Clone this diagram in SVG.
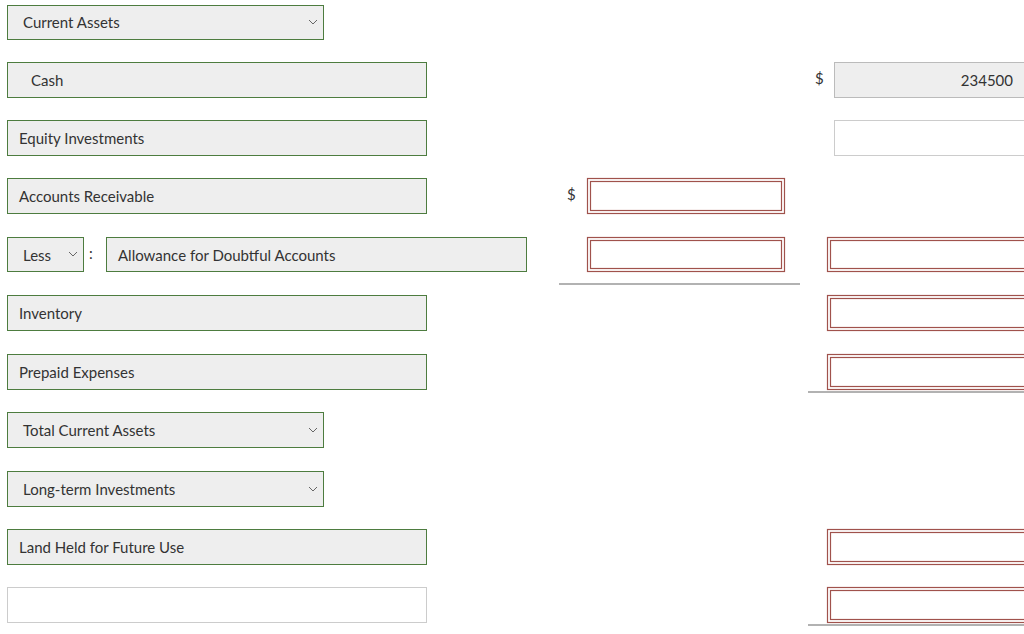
<svg xmlns="http://www.w3.org/2000/svg" width="1024" height="634" viewBox="0 0 1024 634">
<style>
.f{fill:#eeeeee;stroke:#4d7c3f;stroke-width:1}
.w{fill:#ffffff;stroke:#cccccc;stroke-width:1}
.g{fill:#eeeeee;stroke:#bbbbbb;stroke-width:1}
.r{fill:#ffffff;stroke:#a0524c;stroke-width:1.2}
.t{font-family:Lato,"Liberation Sans",sans-serif;font-size:15px;fill:#333333}
.c{fill:none;stroke:#666;stroke-width:1}
.ln{stroke:#999;stroke-width:1.5}
</style>
<rect width="1024" height="634" fill="#fff"/>
<g id="current-assets"><rect class="f" x="7.5" y="5.5" width="316" height="34"/><text class="t" x="23" y="28">Current Assets</text><path class="c" d="M309 20l4 4 4-4"/></g>
<g id="cash"><rect class="f" x="7.5" y="62.5" width="419" height="35"/><text class="t" x="31" y="86">Cash</text></g>
<g id="equity"><rect class="f" x="7.5" y="120.5" width="419" height="35"/><text class="t" x="19" y="144">Equity Investments</text></g>
<g id="ar"><rect class="f" x="7.5" y="178.5" width="419" height="35"/><text class="t" x="19" y="202">Accounts Receivable</text></g>
<g id="less"><rect class="f" x="7.5" y="237.5" width="76" height="34"/><text class="t" x="23" y="261">Less</text><path class="c" d="M69 252l4 4 4-4"/><text class="t" x="89" y="259">:</text></g>
<g id="allowance"><rect class="f" x="106.5" y="237.5" width="420" height="34"/><text class="t" x="118" y="261">Allowance for Doubtful Accounts</text></g>
<g id="inventory"><rect class="f" x="7.5" y="295.5" width="419" height="35"/><text class="t" x="19" y="319">Inventory</text></g>
<g id="prepaid"><rect class="f" x="7.5" y="354.5" width="419" height="35"/><text class="t" x="19" y="378">Prepaid Expenses</text></g>
<g id="tca"><rect class="f" x="7.5" y="412.5" width="316" height="35"/><text class="t" x="23" y="436">Total Current Assets</text><path class="c" d="M309 428l4 4 4-4"/></g>
<g id="lti"><rect class="f" x="7.5" y="471.5" width="316" height="35"/><text class="t" x="23" y="495">Long-term Investments</text><path class="c" d="M309 487l4 4 4-4"/></g>
<g id="land"><rect class="f" x="7.5" y="529.5" width="419" height="35"/><text class="t" x="19" y="553">Land Held for Future Use</text></g>
<g id="blank"><rect class="w" x="7.5" y="587.5" width="419" height="35"/></g>
<g id="cash-amt"><text class="t" x="815" y="84" font-size="17">$</text><rect class="g" x="834.5" y="62.5" width="190" height="35"/><text class="t" x="1013" y="86" text-anchor="end">234500</text></g>
<g id="equity-amt"><rect class="w" x="834.5" y="120.5" width="190" height="35"/></g>
<g id="ar-amt"><text class="t" x="567" y="200" font-size="17">$</text><rect class="r" x="587.5" y="178.5" width="197" height="35"/><rect class="r" x="590.5" y="181.5" width="191" height="29"/></g>
<g id="allow-amt"><rect class="r" x="587.5" y="237.5" width="197" height="34"/><rect class="r" x="590.5" y="240.5" width="191" height="28"/></g>
<g id="right-boxes">
<rect class="r" x="827.5" y="237.5" width="200" height="34"/><rect class="r" x="830.5" y="240.5" width="200" height="28"/>
<rect class="r" x="827.5" y="295.5" width="200" height="35"/><rect class="r" x="830.5" y="298.5" width="200" height="29"/>
<rect class="r" x="827.5" y="354.5" width="200" height="35"/><rect class="r" x="830.5" y="357.5" width="200" height="29"/>
<rect class="r" x="827.5" y="529.5" width="200" height="35"/><rect class="r" x="830.5" y="532.5" width="200" height="29"/>
<rect class="r" x="827.5" y="587.5" width="200" height="35"/><rect class="r" x="830.5" y="590.5" width="200" height="29"/>
</g>
<g id="connectors">
<line class="ln" x1="559" y1="284" x2="800" y2="284"/>
<line class="ln" x1="808" y1="392" x2="1024" y2="392"/>
<line class="ln" x1="808" y1="625" x2="1024" y2="625"/>
</g>
</svg>
